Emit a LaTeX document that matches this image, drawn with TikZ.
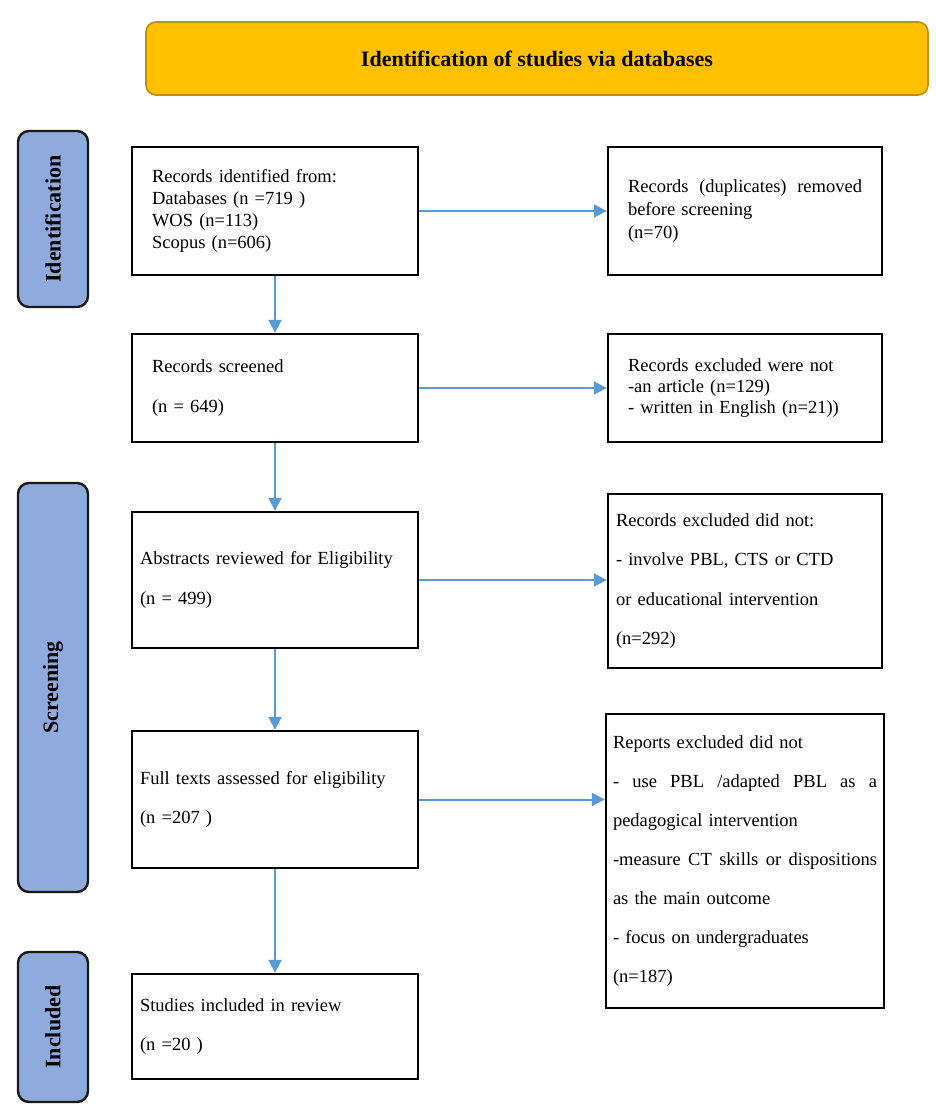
\documentclass[tikz,border=0pt]{standalone}
\usepackage{fontspec}
\setmainfont{Liberation Serif}
\usetikzlibrary{arrows.meta,positioning}
\definecolor{hdrfill}{HTML}{FFC000}
\definecolor{hdrline}{HTML}{BF9000}
\definecolor{lblfill}{HTML}{8FAADC}
\definecolor{arrblue}{HTML}{5B9BD5}
\begin{document}
\begin{tikzpicture}[x=1pt,y=-1pt,
  box/.style={draw=black,line width=2.4pt,rectangle,align=left,inner ysep=0pt,
    font=\fontsize{18.5}{22}\selectfont},
  loose/.style={font=\fontsize{18.5}{39.5}\selectfont},
  phase/.style={draw=black!90,line width=2.4pt,fill=lblfill,rounded corners=11pt,
    rotate=90,inner sep=0pt,font=\fontsize{22}{26}\selectfont\bfseries},
  header/.style={draw=hdrline,line width=1.6pt,fill=hdrfill,rounded corners=10pt,
    inner sep=0pt,font=\fontsize{22}{26}\selectfont\bfseries},
  flow/.style={draw=arrblue,line width=2pt,-{Triangle[length=13pt,width=13pt]}}
]
\useasboundingbox (0,0) rectangle (935,1116);

% header
\node[header,minimum width=782pt,minimum height=73pt] (hdr) at (537,58.5)
  {Identification of studies via databases};

% phase labels
\node[phase,minimum width=176pt,minimum height=70pt] (pid) at (53,219) {Identification};
\node[phase,minimum width=409pt,minimum height=70pt] (psc) at (53,687.5) {Screening};
\node[phase,minimum width=150pt,minimum height=70pt] (pin) at (53,1027) {Included};

% left column
\node[box,inner xsep=20pt,text width=246pt,minimum height=128pt] (b1) at (275,211)
  {Records identified from:\\Databases (n =719 )\\WOS (n=113)\\Scopus (n=606)};
\node[box,loose,inner xsep=20pt,text width=246pt,minimum height=108pt] (b3) at (275,388)
  {Records screened\\(n = 649)};
\node[box,loose,inner xsep=8pt,text width=270pt,minimum height=136pt] (b5) at (275,580)
  {Abstracts reviewed for Eligibility\\(n = 499)};
\node[box,loose,inner xsep=8pt,text width=270pt,minimum height=137pt] (b7) at (275,799.5)
  {Full texts assessed for eligibility\\(n =207 )};
\node[box,loose,inner xsep=8pt,text width=270pt,minimum height=105pt] (b9) at (275,1026.5)
  {Studies included in review\\(n =20 )};

% right column
\node[box,font=\fontsize{18.5}{23}\selectfont,inner xsep=20pt,text width=234pt,minimum height=128pt] (b2) at (745,211)
  {\makebox[234pt][l]{Records\hfill(duplicates)\hfill removed}\\before screening\\(n=70)};
\node[box,font=\fontsize{18.5}{21}\selectfont,inner xsep=20pt,text width=234pt,minimum height=108pt] (b4) at (745,388)
  {Records excluded were not\\-an article (n=129)\\- written in English (n=21))};
\node[box,loose,inner xsep=8pt,text width=258pt,minimum height=174pt] (b6) at (745,581)
  {Records excluded did not:\\- involve PBL, CTS or CTD\\or educational intervention\\(n=292)};
\node[box,font=\fontsize{18.5}{39}\selectfont,inner xsep=7pt,text width=264pt,minimum height=294pt] (b8) at (745,861)
  {Reports excluded did not\\\makebox[264pt][l]{-\hfill use\hfill PBL\hfill /adapted\hfill PBL\hfill as\hfill a}\\pedagogical intervention\\\makebox[264pt][l]{-measure\hfill CT\hfill skills\hfill or\hfill dispositions}\\as the main outcome\\- focus on undergraduates\\(n=187)};

% connectors
\draw[flow] (b1) -- (b3);
\draw[flow] (b3) -- (b5);
\draw[flow] (b5) -- (b7);
\draw[flow] (b7) -- (b9);
\draw[flow] (b1.east) -- (b1.east -| b2.west);
\draw[flow] (b3.east) -- (b3.east -| b4.west);
\draw[flow] (b5.east) -- (b5.east -| b6.west);
\draw[flow] (b7.east) -- (b7.east -| b8.west);
\end{tikzpicture}
\end{document}
